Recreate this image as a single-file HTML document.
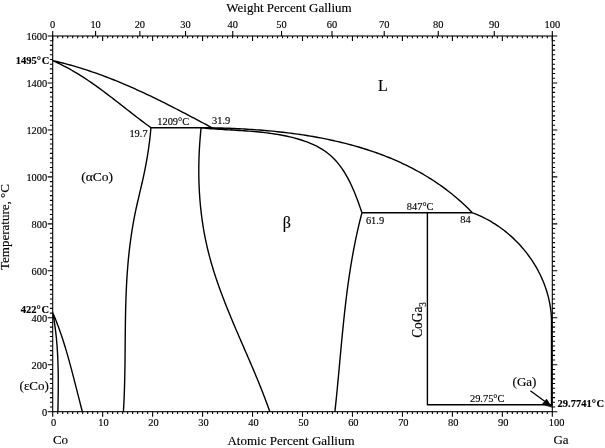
<!DOCTYPE html>
<html><head><meta charset="utf-8"><title>Co-Ga phase diagram</title>
<style>html,body{margin:0;padding:0;background:#fff;width:605px;height:448px;overflow:hidden}svg{display:block}</style>
</head><body>
<svg width="605" height="448" viewBox="0 0 605 448" font-family="'Liberation Serif', serif" fill="#000">
<style>text{stroke:#000;stroke-width:0.15px}</style>
<rect x="52.70" y="36.00" width="499.60" height="375.70" stroke="#000" stroke-width="1.1" fill="none"/>
<path d="M52.70 411.70v5M52.70 36.00v5M57.70 411.70v2.2M57.70 36.00v2.2M62.69 411.70v2.2M62.69 36.00v2.2M67.69 411.70v2.2M67.69 36.00v2.2M72.68 411.70v2.2M72.68 36.00v2.2M77.68 411.70v2.2M77.68 36.00v2.2M82.68 411.70v2.2M82.68 36.00v2.2M87.67 411.70v2.2M87.67 36.00v2.2M92.67 411.70v2.2M92.67 36.00v2.2M97.66 411.70v2.2M97.66 36.00v2.2M102.66 411.70v5M102.66 36.00v5M107.66 411.70v2.2M107.66 36.00v2.2M112.65 411.70v2.2M112.65 36.00v2.2M117.65 411.70v2.2M117.65 36.00v2.2M122.64 411.70v2.2M122.64 36.00v2.2M127.64 411.70v2.2M127.64 36.00v2.2M132.64 411.70v2.2M132.64 36.00v2.2M137.63 411.70v2.2M137.63 36.00v2.2M142.63 411.70v2.2M142.63 36.00v2.2M147.62 411.70v2.2M147.62 36.00v2.2M152.62 411.70v5M152.62 36.00v5M157.62 411.70v2.2M157.62 36.00v2.2M162.61 411.70v2.2M162.61 36.00v2.2M167.61 411.70v2.2M167.61 36.00v2.2M172.60 411.70v2.2M172.60 36.00v2.2M177.60 411.70v2.2M177.60 36.00v2.2M182.60 411.70v2.2M182.60 36.00v2.2M187.59 411.70v2.2M187.59 36.00v2.2M192.59 411.70v2.2M192.59 36.00v2.2M197.58 411.70v2.2M197.58 36.00v2.2M202.58 411.70v5M202.58 36.00v5M207.58 411.70v2.2M207.58 36.00v2.2M212.57 411.70v2.2M212.57 36.00v2.2M217.57 411.70v2.2M217.57 36.00v2.2M222.56 411.70v2.2M222.56 36.00v2.2M227.56 411.70v2.2M227.56 36.00v2.2M232.56 411.70v2.2M232.56 36.00v2.2M237.55 411.70v2.2M237.55 36.00v2.2M242.55 411.70v2.2M242.55 36.00v2.2M247.54 411.70v2.2M247.54 36.00v2.2M252.54 411.70v5M252.54 36.00v5M257.54 411.70v2.2M257.54 36.00v2.2M262.53 411.70v2.2M262.53 36.00v2.2M267.53 411.70v2.2M267.53 36.00v2.2M272.52 411.70v2.2M272.52 36.00v2.2M277.52 411.70v2.2M277.52 36.00v2.2M282.52 411.70v2.2M282.52 36.00v2.2M287.51 411.70v2.2M287.51 36.00v2.2M292.51 411.70v2.2M292.51 36.00v2.2M297.50 411.70v2.2M297.50 36.00v2.2M302.50 411.70v5M302.50 36.00v5M307.50 411.70v2.2M307.50 36.00v2.2M312.49 411.70v2.2M312.49 36.00v2.2M317.49 411.70v2.2M317.49 36.00v2.2M322.48 411.70v2.2M322.48 36.00v2.2M327.48 411.70v2.2M327.48 36.00v2.2M332.48 411.70v2.2M332.48 36.00v2.2M337.47 411.70v2.2M337.47 36.00v2.2M342.47 411.70v2.2M342.47 36.00v2.2M347.46 411.70v2.2M347.46 36.00v2.2M352.46 411.70v5M352.46 36.00v5M357.46 411.70v2.2M357.46 36.00v2.2M362.45 411.70v2.2M362.45 36.00v2.2M367.45 411.70v2.2M367.45 36.00v2.2M372.44 411.70v2.2M372.44 36.00v2.2M377.44 411.70v2.2M377.44 36.00v2.2M382.44 411.70v2.2M382.44 36.00v2.2M387.43 411.70v2.2M387.43 36.00v2.2M392.43 411.70v2.2M392.43 36.00v2.2M397.42 411.70v2.2M397.42 36.00v2.2M402.42 411.70v5M402.42 36.00v5M407.42 411.70v2.2M407.42 36.00v2.2M412.41 411.70v2.2M412.41 36.00v2.2M417.41 411.70v2.2M417.41 36.00v2.2M422.40 411.70v2.2M422.40 36.00v2.2M427.40 411.70v2.2M427.40 36.00v2.2M432.40 411.70v2.2M432.40 36.00v2.2M437.39 411.70v2.2M437.39 36.00v2.2M442.39 411.70v2.2M442.39 36.00v2.2M447.38 411.70v2.2M447.38 36.00v2.2M452.38 411.70v5M452.38 36.00v5M457.38 411.70v2.2M457.38 36.00v2.2M462.37 411.70v2.2M462.37 36.00v2.2M467.37 411.70v2.2M467.37 36.00v2.2M472.36 411.70v2.2M472.36 36.00v2.2M477.36 411.70v2.2M477.36 36.00v2.2M482.36 411.70v2.2M482.36 36.00v2.2M487.35 411.70v2.2M487.35 36.00v2.2M492.35 411.70v2.2M492.35 36.00v2.2M497.34 411.70v2.2M497.34 36.00v2.2M502.34 411.70v5M502.34 36.00v5M507.34 411.70v2.2M507.34 36.00v2.2M512.33 411.70v2.2M512.33 36.00v2.2M517.33 411.70v2.2M517.33 36.00v2.2M522.32 411.70v2.2M522.32 36.00v2.2M527.32 411.70v2.2M527.32 36.00v2.2M532.32 411.70v2.2M532.32 36.00v2.2M537.31 411.70v2.2M537.31 36.00v2.2M542.31 411.70v2.2M542.31 36.00v2.2M547.30 411.70v2.2M547.30 36.00v2.2M552.30 411.70v5M552.30 36.00v5M52.70 36.00v-5M95.59 36.00v-5M139.85 36.00v-5M185.55 36.00v-5M232.76 36.00v-5M281.55 36.00v-5M332.00 36.00v-5M384.21 36.00v-5M438.26 36.00v-5M494.26 36.00v-5M552.30 36.00v-5M52.70 411.70h-5M552.30 411.70h5M52.70 407.00h-2.8M552.30 407.00h2.8M52.70 402.31h-2.8M552.30 402.31h2.8M52.70 397.61h-2.8M552.30 397.61h2.8M52.70 392.91h-2.8M552.30 392.91h2.8M52.70 388.22h-2.8M552.30 388.22h2.8M52.70 383.52h-2.8M552.30 383.52h2.8M52.70 378.83h-2.8M552.30 378.83h2.8M52.70 374.13h-2.8M552.30 374.13h2.8M52.70 369.43h-2.8M552.30 369.43h2.8M52.70 364.74h-5M552.30 364.74h5M52.70 360.04h-2.8M552.30 360.04h2.8M52.70 355.34h-2.8M552.30 355.34h2.8M52.70 350.65h-2.8M552.30 350.65h2.8M52.70 345.95h-2.8M552.30 345.95h2.8M52.70 341.26h-2.8M552.30 341.26h2.8M52.70 336.56h-2.8M552.30 336.56h2.8M52.70 331.86h-2.8M552.30 331.86h2.8M52.70 327.17h-2.8M552.30 327.17h2.8M52.70 322.47h-2.8M552.30 322.47h2.8M52.70 317.77h-5M552.30 317.77h5M52.70 313.08h-2.8M552.30 313.08h2.8M52.70 308.38h-2.8M552.30 308.38h2.8M52.70 303.69h-2.8M552.30 303.69h2.8M52.70 298.99h-2.8M552.30 298.99h2.8M52.70 294.29h-2.8M552.30 294.29h2.8M52.70 289.60h-2.8M552.30 289.60h2.8M52.70 284.90h-2.8M552.30 284.90h2.8M52.70 280.20h-2.8M552.30 280.20h2.8M52.70 275.51h-2.8M552.30 275.51h2.8M52.70 270.81h-5M552.30 270.81h5M52.70 266.12h-2.8M552.30 266.12h2.8M52.70 261.42h-2.8M552.30 261.42h2.8M52.70 256.72h-2.8M552.30 256.72h2.8M52.70 252.03h-2.8M552.30 252.03h2.8M52.70 247.33h-2.8M552.30 247.33h2.8M52.70 242.63h-2.8M552.30 242.63h2.8M52.70 237.94h-2.8M552.30 237.94h2.8M52.70 233.24h-2.8M552.30 233.24h2.8M52.70 228.55h-2.8M552.30 228.55h2.8M52.70 223.85h-5M552.30 223.85h5M52.70 219.15h-2.8M552.30 219.15h2.8M52.70 214.46h-2.8M552.30 214.46h2.8M52.70 209.76h-2.8M552.30 209.76h2.8M52.70 205.06h-2.8M552.30 205.06h2.8M52.70 200.37h-2.8M552.30 200.37h2.8M52.70 195.67h-2.8M552.30 195.67h2.8M52.70 190.98h-2.8M552.30 190.98h2.8M52.70 186.28h-2.8M552.30 186.28h2.8M52.70 181.58h-2.8M552.30 181.58h2.8M52.70 176.89h-5M552.30 176.89h5M52.70 172.19h-2.8M552.30 172.19h2.8M52.70 167.49h-2.8M552.30 167.49h2.8M52.70 162.80h-2.8M552.30 162.80h2.8M52.70 158.10h-2.8M552.30 158.10h2.8M52.70 153.41h-2.8M552.30 153.41h2.8M52.70 148.71h-2.8M552.30 148.71h2.8M52.70 144.01h-2.8M552.30 144.01h2.8M52.70 139.32h-2.8M552.30 139.32h2.8M52.70 134.62h-2.8M552.30 134.62h2.8M52.70 129.93h-5M552.30 129.93h5M52.70 125.23h-2.8M552.30 125.23h2.8M52.70 120.53h-2.8M552.30 120.53h2.8M52.70 115.84h-2.8M552.30 115.84h2.8M52.70 111.14h-2.8M552.30 111.14h2.8M52.70 106.44h-2.8M552.30 106.44h2.8M52.70 101.75h-2.8M552.30 101.75h2.8M52.70 97.05h-2.8M552.30 97.05h2.8M52.70 92.35h-2.8M552.30 92.35h2.8M52.70 87.66h-2.8M552.30 87.66h2.8M52.70 82.96h-5M552.30 82.96h5M52.70 78.27h-2.8M552.30 78.27h2.8M52.70 73.57h-2.8M552.30 73.57h2.8M52.70 68.87h-2.8M552.30 68.87h2.8M52.70 64.18h-2.8M552.30 64.18h2.8M52.70 59.48h-2.8M552.30 59.48h2.8M52.70 54.78h-2.8M552.30 54.78h2.8M52.70 50.09h-2.8M552.30 50.09h2.8M52.70 45.39h-2.8M552.30 45.39h2.8M52.70 40.70h-2.8M552.30 40.70h2.8M52.70 36.00h-5M552.30 36.00h5" stroke="#000" stroke-width="1.1" fill="none"/>
<path d="M151.12 127.81H212.07M361.95 212.81H472.36M427.40 212.81V404.71H551.30M52.70 60.66L55.20 61.22L57.69 61.80L60.18 62.41L62.66 63.03L65.14 63.66L67.61 64.32L70.07 64.99L72.53 65.68L74.98 66.39L77.43 67.11L79.87 67.85L82.30 68.61L84.73 69.38L87.15 70.17L89.57 70.97L91.99 71.79L94.40 72.62L96.80 73.46L99.20 74.33L101.59 75.20L103.98 76.09L106.36 76.99L108.74 77.90L111.11 78.83L113.48 79.77L115.85 80.72L118.21 81.68L120.56 82.65L122.91 83.64L125.26 84.63L127.61 85.64L129.94 86.66L132.28 87.69L134.61 88.72L136.94 89.77L139.26 90.83L141.58 91.89L143.90 92.96L146.21 94.05L148.52 95.14L150.83 96.23L153.13 97.34L155.43 98.45L157.72 99.57L160.02 100.70L162.31 101.83L164.59 102.97L166.88 104.12L169.16 105.27L171.44 106.42L173.71 107.58L175.99 108.75L178.26 109.92L180.53 111.09L182.79 112.27L185.06 113.45L187.32 114.64L189.58 115.83L191.84 117.02L194.09 118.21L196.34 119.41L198.60 120.60L200.85 121.80L203.09 123.00L205.34 124.20L207.59 125.41L209.83 126.61L212.07 127.81M52.70 60.66L55.10 61.72L57.48 62.81L59.83 63.93L62.17 65.09L64.49 66.27L66.78 67.49L69.07 68.73L71.33 70.00L73.58 71.29L75.81 72.61L78.02 73.95L80.22 75.31L82.41 76.70L84.58 78.11L86.75 79.53L88.90 80.98L91.03 82.44L93.16 83.92L95.28 85.41L97.39 86.92L99.49 88.44L101.58 89.97L103.66 91.52L105.74 93.07L107.81 94.64L109.88 96.21L111.94 97.79L114.00 99.38L116.05 100.97L118.10 102.56L120.15 104.16L122.20 105.76L124.25 107.36L126.30 108.96L128.35 110.56L130.40 112.16L132.45 113.76L134.51 115.35L136.56 116.94L138.63 118.52L140.69 120.09L142.77 121.65L144.84 123.21L146.93 124.75L149.02 126.29L151.12 127.81M150.90 127.81L150.69 130.34L150.46 132.87L150.21 135.40L149.94 137.92L149.65 140.43L149.34 142.95L149.01 145.46L148.67 147.97L148.30 150.47L147.92 152.97L147.52 155.47L147.10 157.96L146.67 160.46L146.22 162.95L145.75 165.43L145.27 167.92L144.78 170.40L144.27 172.88L143.75 175.36L143.21 177.83L142.66 180.30L142.10 182.77L141.53 185.24L140.95 187.71L140.37 190.18L139.79 192.65L139.21 195.11L138.63 197.58L138.05 200.05L137.48 202.52L136.92 204.99L136.37 207.46L135.83 209.93L135.31 212.41L134.80 214.89L134.32 217.37L133.84 219.86L133.39 222.34L132.95 224.83L132.52 227.32L132.11 229.82L131.72 232.32L131.34 234.82L130.98 237.32L130.63 239.82L130.29 242.32L129.97 244.83L129.66 247.34L129.37 249.85L129.09 252.36L128.82 254.88L128.57 257.39L128.32 259.91L128.09 262.42L127.87 264.94L127.67 267.46L127.47 269.98L127.29 272.51L127.11 275.03L126.95 277.55L126.80 280.08L126.65 282.60L126.52 285.13L126.40 287.66L126.28 290.18L126.17 292.71L126.07 295.24L125.98 297.77L125.90 300.30L125.82 302.83L125.75 305.36L125.68 307.89L125.62 310.43L125.57 312.96L125.52 315.49L125.47 318.02L125.43 320.56L125.39 323.09L125.36 325.62L125.33 328.16L125.30 330.69L125.27 333.23L125.25 335.76L125.23 338.30L125.20 340.83L125.18 343.37L125.16 345.90L125.14 348.43L125.11 350.97L125.09 353.50L125.07 356.04L125.04 358.57L125.01 361.11L124.98 363.64L124.95 366.17L124.91 368.71L124.87 371.24L124.82 373.77L124.77 376.30L124.72 378.84L124.66 381.37L124.59 383.90L124.52 386.43L124.45 388.96L124.36 391.49L124.27 394.02L124.17 396.55L124.06 399.07L123.95 401.60L123.83 404.13L123.69 406.65L123.55 409.18L123.40 411.70M201.10 127.81L200.84 130.34L200.60 132.87L200.37 135.40L200.15 137.94L199.95 140.47L199.77 143.01L199.60 145.55L199.45 148.08L199.31 150.62L199.19 153.16L199.08 155.70L198.99 158.24L198.92 160.78L198.86 163.31L198.82 165.85L198.80 168.39L198.79 170.93L198.80 173.47L198.83 176.00L198.87 178.54L198.93 181.07L199.01 183.60L199.11 186.14L199.22 188.67L199.35 191.19L199.50 193.72L199.67 196.25L199.85 198.77L200.05 201.29L200.27 203.81L200.51 206.32L200.77 208.84L201.05 211.35L201.34 213.85L201.66 216.36L201.99 218.86L202.34 221.36L202.72 223.85L203.11 226.34L203.52 228.83L203.95 231.31L204.40 233.79L204.87 236.27L205.36 238.74L205.87 241.21L206.40 243.67L206.95 246.12L207.52 248.58L208.11 251.02L208.73 253.47L209.36 255.90L210.01 258.34L210.68 260.76L211.37 263.19L212.08 265.61L212.80 268.02L213.54 270.43L214.30 272.84L215.08 275.24L215.86 277.64L216.67 280.03L217.49 282.43L218.32 284.81L219.16 287.20L220.02 289.58L220.89 291.96L221.78 294.33L222.67 296.70L223.58 299.07L224.49 301.44L225.42 303.80L226.35 306.16L227.29 308.52L228.24 310.88L229.20 313.23L230.17 315.58L231.14 317.94L232.12 320.28L233.11 322.63L234.10 324.98L235.09 327.32L236.09 329.66L237.10 332.00L238.10 334.34L239.11 336.68L240.12 339.02L241.14 341.36L242.15 343.70L243.17 346.03L244.18 348.37L245.19 350.71L246.21 353.04L247.22 355.38L248.23 357.71L249.24 360.05L250.25 362.38L251.25 364.72L252.25 367.06L253.24 369.39L254.23 371.73L255.21 374.07L256.19 376.41L257.16 378.75L258.13 381.09L259.08 383.44L260.03 385.78L260.97 388.13L261.90 390.48L262.82 392.83L263.74 395.18L264.64 397.53L265.53 399.89L266.41 402.24L267.27 404.60L268.13 406.97L268.97 409.33L269.80 411.70M212.07 127.81L214.54 127.86L217.02 127.93L219.50 127.99L221.98 128.07L224.47 128.14L226.97 128.23L229.47 128.32L231.97 128.43L234.48 128.53L236.99 128.65L239.50 128.77L242.02 128.90L244.54 129.04L247.06 129.19L249.59 129.35L252.12 129.51L254.65 129.68L257.18 129.87L259.72 130.06L262.25 130.26L264.79 130.47L267.33 130.69L269.87 130.92L272.41 131.16L274.95 131.41L277.49 131.68L280.04 131.95L282.58 132.23L285.12 132.53L287.66 132.83L290.20 133.15L292.74 133.48L295.28 133.82L297.81 134.17L300.35 134.54L302.88 134.92L305.41 135.31L307.94 135.71L310.47 136.13L312.99 136.56L315.51 137.00L318.03 137.46L320.55 137.93L323.06 138.42L325.57 138.92L328.07 139.43L330.57 139.96L333.07 140.50L335.56 141.06L338.04 141.63L340.53 142.22L343.00 142.82L345.47 143.44L347.94 144.08L350.40 144.73L352.85 145.40L355.30 146.08L357.74 146.78L360.17 147.50L362.60 148.24L365.02 148.99L367.43 149.76L369.84 150.55L372.24 151.35L374.63 152.18L377.01 153.02L379.38 153.88L381.75 154.76L384.11 155.65L386.45 156.57L388.79 157.50L391.12 158.46L393.44 159.43L395.75 160.43L398.05 161.44L400.34 162.47L402.62 163.53L404.88 164.60L407.14 165.70L409.39 166.82L411.62 167.95L413.84 169.11L416.06 170.29L418.26 171.49L420.44 172.72L422.62 173.96L424.78 175.23L426.93 176.52L429.07 177.83L431.19 179.17L433.30 180.53L435.40 181.91L437.48 183.31L439.55 184.74L441.61 186.19L443.65 187.67L445.67 189.17L447.68 190.69L449.68 192.24L451.66 193.82L453.62 195.42L455.57 197.04L457.50 198.69L459.42 200.36L461.32 202.06L463.21 203.79L465.07 205.54L466.92 207.32L468.76 209.12L470.57 210.95L472.37 212.81M472.36 212.81L474.75 213.71L477.11 214.66L479.45 215.67L481.77 216.73L484.07 217.84L486.34 219.00L488.59 220.22L490.81 221.48L493.01 222.79L495.18 224.15L497.32 225.56L499.44 227.01L501.52 228.50L503.58 230.05L505.60 231.63L507.59 233.26L509.55 234.92L511.48 236.63L513.37 238.38L515.22 240.17L517.04 241.99L518.82 243.85L520.57 245.75L522.27 247.68L523.94 249.64L525.57 251.64L527.15 253.67L528.69 255.73L530.19 257.83L531.65 259.95L533.06 262.10L534.43 264.28L535.75 266.48L537.03 268.71L538.26 270.96L539.43 273.24L540.56 275.54L541.64 277.87L542.67 280.21L543.65 282.58L544.57 284.96L545.44 287.37L546.25 289.79L547.01 292.22L547.72 294.68L548.37 297.14L548.96 299.63L549.49 302.12L549.96 304.63L550.37 307.14L550.72 309.67L551.01 312.21L551.24 314.75L551.40 317.31L551.50 319.87L551.53 322.43L551.50 325.00L551.5 406.21M201.10 127.81L203.58 128.06L206.08 128.29L208.57 128.50L211.08 128.70L213.59 128.89L216.11 129.07L218.63 129.24L221.16 129.41L223.69 129.56L226.23 129.72L228.77 129.87L231.31 130.02L233.85 130.17L236.40 130.32L238.95 130.48L241.51 130.64L244.06 130.81L246.61 130.98L249.17 131.17L251.72 131.37L254.28 131.58L256.83 131.81L259.38 132.05L261.93 132.31L264.48 132.59L267.02 132.90L269.56 133.22L272.10 133.57L274.64 133.95L277.17 134.35L279.69 134.78L282.21 135.24L284.72 135.74L287.23 136.27L289.73 136.83L292.22 137.43L294.71 138.07L297.19 138.75L299.65 139.48L302.09 140.25L304.51 141.07L306.90 141.94L309.27 142.86L311.61 143.84L313.91 144.87L316.17 145.97L318.38 147.13L320.55 148.35L322.67 149.64L324.74 151.01L326.75 152.44L328.70 153.95L330.59 155.54L332.41 157.20L334.17 158.95L335.86 160.76L337.49 162.64L339.06 164.58L340.58 166.58L342.04 168.64L343.44 170.75L344.80 172.90L346.11 175.10L347.37 177.34L348.58 179.61L349.75 181.91L350.88 184.24L351.97 186.59L353.03 188.96L354.04 191.35L355.03 193.75L355.98 196.15L356.91 198.55L357.80 200.96L358.68 203.36L359.52 205.75L360.35 208.12L361.16 210.48L361.95 212.81M361.95 212.81L361.30 215.28L360.67 217.74L360.04 220.21L359.44 222.68L358.84 225.15L358.26 227.63L357.69 230.11L357.13 232.59L356.59 235.07L356.06 237.56L355.54 240.04L355.03 242.53L354.53 245.03L354.05 247.52L353.57 250.02L353.11 252.51L352.65 255.01L352.21 257.51L351.78 260.02L351.35 262.52L350.94 265.03L350.53 267.54L350.14 270.05L349.75 272.56L349.37 275.07L349.00 277.59L348.64 280.10L348.28 282.62L347.93 285.14L347.59 287.66L347.26 290.18L346.93 292.71L346.62 295.23L346.30 297.75L345.99 300.28L345.69 302.81L345.40 305.34L345.11 307.86L344.82 310.39L344.54 312.92L344.27 315.45L344.00 317.99L343.73 320.52L343.47 323.05L343.21 325.59L342.95 328.12L342.70 330.65L342.45 333.19L342.20 335.72L341.96 338.26L341.72 340.80L341.48 343.33L341.24 345.87L341.00 348.40L340.77 350.94L340.53 353.48L340.30 356.01L340.07 358.55L339.83 361.09L339.60 363.62L339.37 366.16L339.14 368.69L338.90 371.23L338.67 373.76L338.44 376.30L338.20 378.83L337.96 381.36L337.72 383.90L337.48 386.43L337.24 388.96L336.99 391.49L336.74 394.02L336.49 396.55L336.23 399.08L335.97 401.60L335.71 404.13L335.44 406.65L335.17 409.18L334.90 411.70M52.70 312.61L53.19 315.18L53.65 317.76L54.08 320.35L54.49 322.93L54.87 325.52L55.22 328.11L55.55 330.70L55.86 333.30L56.15 335.90L56.41 338.50L56.65 341.10L56.88 343.70L57.08 346.31L57.26 348.92L57.43 351.52L57.58 354.14L57.71 356.75L57.82 359.36L57.92 361.98L58.01 364.59L58.08 367.21L58.14 369.82L58.19 372.44L58.22 375.06L58.24 377.68L58.26 380.30L58.26 382.92L58.26 385.54L58.25 388.16L58.23 390.77L58.20 393.39L58.17 396.01L58.13 398.63L58.09 401.24L58.05 403.86L58.00 406.47L57.95 409.09L57.90 411.70M52.70 312.61L53.72 315.00L54.72 317.39L55.69 319.80L56.64 322.21L57.57 324.63L58.48 327.05L59.36 329.49L60.23 331.92L61.07 334.37L61.90 336.82L62.71 339.27L63.51 341.74L64.29 344.20L65.05 346.67L65.80 349.15L66.54 351.63L67.26 354.11L67.97 356.60L68.67 359.09L69.37 361.58L70.05 364.08L70.72 366.58L71.39 369.08L72.05 371.59L72.70 374.09L73.35 376.60L74.00 379.11L74.64 381.62L75.28 384.13L75.92 386.64L76.56 389.15L77.20 391.66L77.83 394.17L78.48 396.67L79.12 399.18L79.76 401.69L80.41 404.20L81.07 406.70L81.73 409.20L82.40 411.70" stroke="#000" stroke-width="1.4" fill="none" stroke-linejoin="round"/>
<path d="M530.4 390.7L545 401.6" stroke="#000" stroke-width="1.3"/>
<path d="M551.8 407.3L542.2 404.3L546.6 399.1Z" fill="#000" stroke="#000" stroke-width="0.5" stroke-linejoin="round"/>
<text transform="translate(53.60 425.80) scale(0.93 1)" font-size="11.2" text-anchor="middle">0</text>
<text transform="translate(103.56 425.80) scale(0.93 1)" font-size="11.2" text-anchor="middle">10</text>
<text transform="translate(153.52 425.80) scale(0.93 1)" font-size="11.2" text-anchor="middle">20</text>
<text transform="translate(203.48 425.80) scale(0.93 1)" font-size="11.2" text-anchor="middle">30</text>
<text transform="translate(253.44 425.80) scale(0.93 1)" font-size="11.2" text-anchor="middle">40</text>
<text transform="translate(303.40 425.80) scale(0.93 1)" font-size="11.2" text-anchor="middle">50</text>
<text transform="translate(353.36 425.80) scale(0.93 1)" font-size="11.2" text-anchor="middle">60</text>
<text transform="translate(403.32 425.80) scale(0.93 1)" font-size="11.2" text-anchor="middle">70</text>
<text transform="translate(453.28 425.80) scale(0.93 1)" font-size="11.2" text-anchor="middle">80</text>
<text transform="translate(503.24 425.80) scale(0.93 1)" font-size="11.2" text-anchor="middle">90</text>
<text transform="translate(556.60 425.80) scale(0.93 1)" font-size="11.2" text-anchor="middle">100</text>
<text transform="translate(52.70 28.00) scale(0.93 1)" font-size="11.2" text-anchor="middle">0</text>
<text transform="translate(95.59 28.00) scale(0.93 1)" font-size="11.2" text-anchor="middle">10</text>
<text transform="translate(139.85 28.00) scale(0.93 1)" font-size="11.2" text-anchor="middle">20</text>
<text transform="translate(185.55 28.00) scale(0.93 1)" font-size="11.2" text-anchor="middle">30</text>
<text transform="translate(232.76 28.00) scale(0.93 1)" font-size="11.2" text-anchor="middle">40</text>
<text transform="translate(281.55 28.00) scale(0.93 1)" font-size="11.2" text-anchor="middle">50</text>
<text transform="translate(332.00 28.00) scale(0.93 1)" font-size="11.2" text-anchor="middle">60</text>
<text transform="translate(384.21 28.00) scale(0.93 1)" font-size="11.2" text-anchor="middle">70</text>
<text transform="translate(438.26 28.00) scale(0.93 1)" font-size="11.2" text-anchor="middle">80</text>
<text transform="translate(494.26 28.00) scale(0.93 1)" font-size="11.2" text-anchor="middle">90</text>
<text transform="translate(552.30 28.00) scale(0.93 1)" font-size="11.2" text-anchor="middle">100</text>
<text transform="translate(47.20 415.50) scale(0.93 1)" font-size="11.2" text-anchor="end">0</text>
<text transform="translate(47.20 368.54) scale(0.93 1)" font-size="11.2" text-anchor="end">200</text>
<text transform="translate(47.20 321.57) scale(0.93 1)" font-size="11.2" text-anchor="end">400</text>
<text transform="translate(47.20 274.61) scale(0.93 1)" font-size="11.2" text-anchor="end">600</text>
<text transform="translate(47.20 227.65) scale(0.93 1)" font-size="11.2" text-anchor="end">800</text>
<text transform="translate(47.20 180.69) scale(0.93 1)" font-size="11.2" text-anchor="end">1000</text>
<text transform="translate(47.20 133.73) scale(0.93 1)" font-size="11.2" text-anchor="end">1200</text>
<text transform="translate(47.20 86.76) scale(0.93 1)" font-size="11.2" text-anchor="end">1400</text>
<text transform="translate(47.20 39.80) scale(0.93 1)" font-size="11.2" text-anchor="end">1600</text>
<text x="289.00" y="11.60" font-size="13" text-anchor="middle">Weight Percent Gallium</text>
<text x="291.00" y="445.30" font-size="13" text-anchor="middle">Atomic Percent Gallium</text>
<text x="60.50" y="444.30" font-size="13" text-anchor="middle">Co</text>
<text x="561.00" y="444.30" font-size="13" text-anchor="middle">Ga</text>
<text x="9.20" y="227.00" font-size="13" text-anchor="middle" transform="rotate(-90 9.2 227)">Temperature, °C</text>
<text x="49.40" y="64.20" font-size="10.5" text-anchor="end" font-weight="bold">1495°<tspan dx="0.9">C</tspan></text>
<text x="49.20" y="312.90" font-size="10.5" text-anchor="end" font-weight="bold">422°<tspan dx="0.9">C</tspan></text>
<text x="557.60" y="407.10" font-size="10.5" text-anchor="start" font-weight="bold">29.7741°<tspan dx="0.6">C</tspan></text>
<text transform="translate(173.20 124.90) scale(0.93 1)" font-size="11.2" text-anchor="middle">1209°C</text>
<text transform="translate(221.20 123.80) scale(0.93 1)" font-size="11.2" text-anchor="middle">31.9</text>
<text transform="translate(138.50 136.50) scale(0.93 1)" font-size="11.2" text-anchor="middle">19.7</text>
<text transform="translate(420.20 210.00) scale(0.93 1)" font-size="11.2" text-anchor="middle">847°C</text>
<text transform="translate(375.00 223.60) scale(0.93 1)" font-size="11.2" text-anchor="middle">61.9</text>
<text transform="translate(465.50 222.90) scale(0.93 1)" font-size="11.2" text-anchor="middle">84</text>
<text transform="translate(487.20 402.40) scale(0.93 1)" font-size="11.2" text-anchor="middle">29.75°C</text>
<text x="383.00" y="90.60" font-size="16" text-anchor="middle">L</text>
<text x="286.90" y="227.60" font-size="16" text-anchor="middle">β</text>
<text x="97.20" y="180.80" font-size="13.5" text-anchor="middle">(αCo)</text>
<text x="34.20" y="389.80" font-size="13" text-anchor="middle">(εCo)</text>
<text x="524.50" y="386.20" font-size="13" text-anchor="middle">(Ga)</text>
<text x="0" y="0" font-size="14.5" transform="translate(421.6 337.8) rotate(-90) scale(0.92 1)">CoGa<tspan font-size="10" dy="4.2">3</tspan></text>
</svg>
</body></html>
